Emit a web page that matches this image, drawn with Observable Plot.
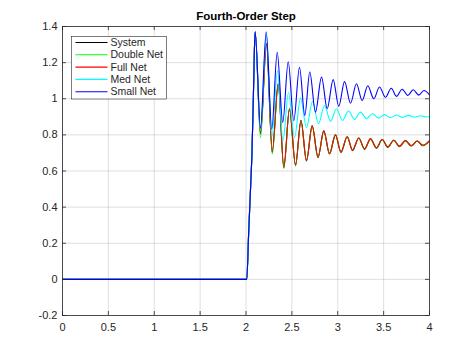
<!DOCTYPE html>
<html><head><meta charset="utf-8">
<script src="https://cdn.jsdelivr.net/npm/d3@7"></script>
<script src="https://cdn.jsdelivr.net/npm/@observablehq/plot@0.6"></script>
<style>body{margin:0;background:#fff;}</style>
</head><body><div id="chart"></div>
<script>
const titleText = "Fourth-Order Step";
const seriesNames = ["System", "Double Net", "Full Net", "Med Net", "Small Net"];
const seriesColors = ["#000000", "#00ff00", "#ff0000", "#00ffff", "#0000ff"];

// shared initial segment (flat, then the step rise)
const riseT = [0, 2.0, 2.008, 2.03, 2.05, 2.065, 2.08, 2.092];
const riseV = [0, 0, 0, 0.27, 0.51, 0.70, 1.0, 1.28];

// per-series extrema
const systemT = [2.100,2.158,2.223,2.286,2.351,2.412,2.474,2.540,2.599,2.659,2.721,2.785,2.848,2.910,2.975,3.035,3.103,3.161,3.229,3.292,3.357,3.422,3.484,3.546,3.611,3.673,3.738,3.801,3.866,3.927,4.000];
const systemV = [1.371,0.805,1.305,0.702,1.083,0.617,0.945,0.630,0.880,0.655,0.850,0.674,0.822,0.694,0.800,0.703,0.790,0.713,0.783,0.720,0.778,0.726,0.774,0.731,0.770,0.735,0.768,0.738,0.766,0.740,0.767];

const doubleT = [2.100,2.158,2.223,2.286,2.351,2.412,2.474,2.540,2.599,2.659,2.721,2.785,2.848,2.910,2.975,3.035,3.103,3.161,3.229,3.292,3.357,3.422,3.484,3.546,3.611,3.673,3.738,3.801,3.866,3.927,4.000];
const doubleV = [1.371,0.785,1.300,0.694,1.080,0.615,0.943,0.632,0.879,0.657,0.849,0.676,0.821,0.696,0.800,0.705,0.790,0.715,0.783,0.722,0.778,0.728,0.774,0.733,0.770,0.737,0.768,0.740,0.766,0.742,0.767];

const fullT = [2.100,2.158,2.223,2.286,2.351,2.412,2.474,2.540,2.599,2.659,2.721,2.785,2.848,2.910,2.975,3.035,3.103,3.161,3.229,3.292,3.357,3.422,3.484,3.546,3.611,3.673,3.738,3.801,3.866,3.927,4.000];
const fullV = [1.371,0.814,1.305,0.710,1.083,0.622,0.945,0.635,0.880,0.659,0.850,0.678,0.822,0.697,0.800,0.706,0.790,0.716,0.783,0.723,0.778,0.729,0.774,0.734,0.770,0.738,0.768,0.741,0.766,0.743,0.767];

const medT = [2.100,2.158,2.222,2.283,2.343,2.403,2.463,2.529,2.594,2.659,2.725,2.790,2.856,2.921,2.986,3.052,3.117,3.183,3.248,3.313,3.379,3.444,3.510,3.575,3.640,3.706,3.771,3.837,3.902,3.967,4.000];
const medV = [1.371,0.825,1.362,0.790,1.155,0.768,1.035,0.785,1.005,0.840,0.985,0.862,0.963,0.875,0.945,0.880,0.932,0.886,0.926,0.890,0.917,0.893,0.912,0.895,0.910,0.897,0.908,0.898,0.906,0.899,0.902];

const smallT = [2.100,2.158,2.220,2.281,2.340,2.401,2.460,2.521,2.583,2.641,2.695,2.757,2.823,2.885,2.950,3.011,3.074,3.139,3.204,3.266,3.327,3.393,3.455,3.520,3.583,3.640,3.702,3.763,3.822,3.883,3.940,4.000];
const smallV = [1.371,0.836,1.371,0.832,1.257,0.869,1.205,0.879,1.174,0.908,1.148,0.926,1.120,0.945,1.106,0.958,1.095,0.975,1.083,0.990,1.072,1.000,1.065,1.008,1.058,1.013,1.053,1.018,1.050,1.020,1.046,1.022];

const xTicks = [0, 0.5, 1, 1.5, 2, 2.5, 3, 3.5, 4];
const xTickLabels = ["0", "0.5", "1", "1.5", "2", "2.5", "3", "3.5", "4"];
const yTicks = [-0.2, 0, 0.2, 0.4, 0.6, 0.8, 1, 1.2, 1.4];
const yTickLabels = ["-0.2", "0", "0.2", "0.4", "0.6", "0.8", "1", "1.2", "1.4"];

const seriesT = [systemT, doubleT, fullT, medT, smallT];
const seriesV = [systemV, doubleV, fullV, medV, smallV];
const seriesData = seriesNames.map((name, i) =>
  riseT.map((t, j) => ({series: name, t, v: riseV[j]}))
    .concat(seriesT[i].map((t, j) => ({series: name, t, v: seriesV[i][j]}))));

const W = 474, H = 355, mL = 62, mR = 45, mT = 26, mB = 40;
const fW = W - mL - mR, fH = H - mT - mB;
const axisColor = "#262626";

const chart = Plot.plot({
  width: W, height: H,
  marginLeft: mL, marginRight: mR, marginTop: mT, marginBottom: mB,
  style: {fontFamily: "'Liberation Sans', Arial, Helvetica, sans-serif", fontSize: "11px", color: axisColor, background: "#fff"},
  x: {domain: [0, 4]},
  y: {domain: [-0.2, 1.4]},
  marks: [
    Plot.gridX(xTicks, {stroke: axisColor, strokeOpacity: 0.15}),
    Plot.gridY(yTicks, {stroke: axisColor, strokeOpacity: 0.15}),
    ...seriesData.map((d, i) => Plot.line(d, {x: "t", y: "v", stroke: seriesColors[i], strokeWidth: 1.1, curve: "monotone-x"})),
    Plot.frame({stroke: axisColor, strokeWidth: 0.8}),
    Plot.ruleX(xTicks, {insetTop: fH - 4, stroke: axisColor, strokeWidth: 0.8}),
    Plot.ruleX(xTicks, {insetBottom: fH - 4, stroke: axisColor, strokeWidth: 0.8}),
    Plot.ruleY(yTicks, {insetRight: fW - 4, stroke: axisColor, strokeWidth: 0.8}),
    Plot.ruleY(yTicks, {insetLeft: fW - 4, stroke: axisColor, strokeWidth: 0.8}),
    Plot.axisX({ticks: xTicks, tickFormat: d => xTickLabels[xTicks.indexOf(d)], tickSize: 0, tickPadding: 8, label: null, fontSize: 11}),
    Plot.axisY({ticks: yTicks, tickFormat: d => yTickLabels[yTicks.indexOf(d)], tickSize: 0, tickPadding: 5, label: null, fontSize: 11}),
    Plot.text([titleText], {text: d => d, frameAnchor: "top", lineAnchor: "bottom", dy: -7, fontWeight: "bold", fontSize: 11.5, fill: "#000"})
  ]
});
document.getElementById("chart").appendChild(chart);

// legend box (top-left inside the axes)
const svg = d3.select(chart);
const lg = svg.append("g").attr("font-size", "10.5px").attr("fill", axisColor).attr("text-anchor", "start");
lg.append("rect").attr("x", 71.5).attr("y", 36.5).attr("width", 95).attr("height", 62.5)
  .attr("fill", "#fff").attr("stroke", axisColor).attr("stroke-width", 0.6);
seriesNames.forEach((name, i) => {
  const y = 42.5 + i * 12.3;
  lg.append("line").attr("x1", 75.5).attr("x2", 107.5).attr("y1", y).attr("y2", y)
    .attr("stroke", seriesColors[i]).attr("stroke-width", 1.1);
  lg.append("text").attr("x", 110.5).attr("y", y).attr("dy", "0.35em")
    .attr("text-anchor", "start").text(name);
});
</script>
</body></html>
